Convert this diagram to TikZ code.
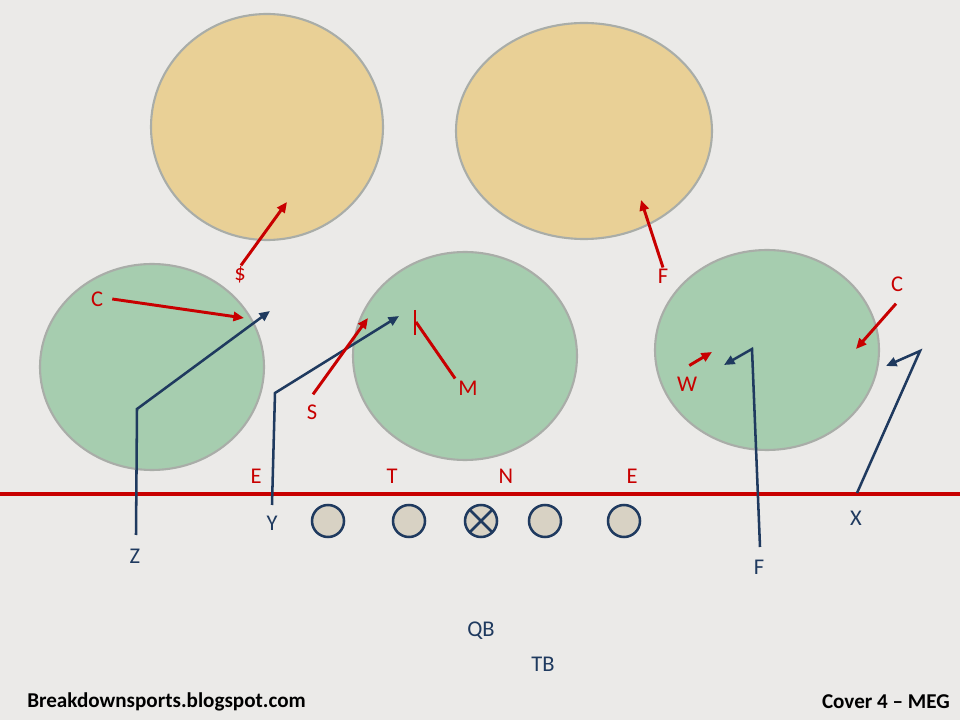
\documentclass[tikz,border=0pt]{standalone}
\usepackage{fontspec}
\setmainfont{Carlito}
\usetikzlibrary{arrows.meta, calc}

\definecolor{bgGrey}{HTML}{EBEAE8}
\definecolor{zoneGold}{HTML}{E9D096}
\definecolor{zoneGreen}{HTML}{A6CDAF}
\definecolor{zoneRim}{HTML}{A9ADA8}
\definecolor{defRed}{HTML}{C80000}
\definecolor{offBlue}{HTML}{1F3A5F}
\definecolor{linemanFill}{HTML}{D8D2C4}

\begin{document}
\begin{tikzpicture}[x=0.025cm, y=-0.025cm,
    deep/.style={fill=zoneGold, draw=zoneRim, line width=1.5pt},
    under/.style={fill=zoneGreen, draw=zoneRim, line width=1.5pt},
    defender/.style={text=defRed, font=\fontsize{16}{18}\selectfont, inner sep=0pt},
    player/.style={text=offBlue, font=\fontsize{16}{18}\selectfont, inner sep=0pt},
    lineman/.style={fill=linemanFill, draw=offBlue, line width=1.8pt},
    drop/.style={draw=defRed, line width=2.1pt, -{Triangle[length=7.5pt, width=6.5pt]}},
    route/.style={draw=offBlue, line width=1.8pt, -{Triangle[length=7.5pt, width=6.5pt]}}]
    % Background
    \fill[bgGrey] (0,0) rectangle (960,720);
    \useasboundingbox (0,0) rectangle (960,720);

    % Deep quarters
    \draw[deep] (267,127) ellipse (116 and 113);
    \draw[deep] (584,131) ellipse (128 and 108);
    % Underneath zones
    \draw[under] (152,367) ellipse (112 and 103);
    \draw[under] (465,356) ellipse (112 and 104);
    \draw[under] (767,350) ellipse (112 and 100);

    % Line of scrimmage
    \draw[defRed, line width=2.2pt] (0,494) -- (960,494);

    % Offensive line
    \foreach \x in {328,409,545,624}
    {
        \draw[lineman] (\x,521) circle (16);
    }
    \draw[lineman] (481,521) circle (16);
    \draw[offBlue, line width=1.8pt] (481,521) ++(45:16) -- ++(225:32)
        (481,521) ++(135:16) -- ++(315:32);

    % Defensive front
    \node[defender] (endL) at (256,476) {E};
    \node[defender] (tackle) at (392,476) {T};
    \node[defender] (nose) at (506,476) {N};
    \node[defender] (endR) at (632,476) {E};

    % Second level and secondary
    \node[defender] (money) at (240,275) {\$};
    \node[defender] (cornerL) at (97,299) {C};
    \node[defender] (sam) at (312,412) {S};
    \node[defender] (mike) at (468,388) {M};
    \node[defender] (free) at (663,276) {F};
    \node[defender] (will) at (687,384) {W};
    \node[defender] (cornerR) at (897,284) {C};

    % Offense
    \node[player] (zRec) at (135,556) {Z};
    \node[player] (yRec) at (272,523) {Y};
    \node[player] (fRec) at (759,567) {F};
    \node[player] (xRec) at (856,518) {X};
    \node[player] (qb) at (481,631) {QB};
    \node[player] (tb) at (543,664) {TB};

    % Route points
    \coordinate (zStart) at (136,535);
    \coordinate (zBreak) at (137,409);
    \coordinate (zEnd) at (270,311);
    \coordinate (yStart) at (272,505);
    \coordinate (yBreak) at (275,393);
    \coordinate (yEnd) at (399,316);
    \coordinate (fStart) at (760,547);
    \coordinate (fBreak) at (752,349);
    \coordinate (fEnd) at (724,365);
    \coordinate (xStart) at (857,493);
    \coordinate (xBreak) at (920,351);
    \coordinate (xEnd) at (886,366);

    % Routes
    \draw[route] (zStart) -- (zBreak) -- (zEnd);
    \draw[route] (yStart) -- (yBreak) -- (yEnd);
    \draw[route] (fStart) -- (fBreak) -- (fEnd);
    \draw[route] (xStart) -- (xBreak) -- (xEnd);

    % Drops
    \coordinate (moneyEnd) at (287,202);
    \coordinate (cornerLEnd) at (244,318);
    \coordinate (samEnd) at (368,318);
    \coordinate (mikeEnd) at (416,322);
    \coordinate (freeEnd) at (641,200);
    \coordinate (willEnd) at (712,352);
    \coordinate (cornerREnd) at (856,349);

    \draw[drop] ($(money.north)+(1,-1)$) -- (moneyEnd);
    \draw[drop] ($(cornerL.east)+(9,0)$) -- (cornerLEnd);
    \draw[drop] ($(sam.north)+(1,-10)$) -- (samEnd);
    \draw[drop, -] ($(mike.north west)+(-3,-2)$) -- (mikeEnd);
    \draw[defRed, line width=2.1pt] (415,310) -- (415,335);
    \draw[drop] ($(free.north)+(0,-1)$) -- (freeEnd);
    \draw[drop] ($(will.north east)+(-8,-11)$) -- (willEnd);
    \draw[drop] ($(cornerR.south)+(-1,12)$) -- (cornerREnd);

    % Footer
    \node[anchor=west, font=\bfseries\fontsize{15}{17}\selectfont, inner sep=0pt] (site) at (27,702) {Breakdownsports.blogspot.com};
    \node[anchor=east, font=\bfseries\fontsize{15}{17}\selectfont, inner sep=0pt] (title) at (950,702) {Cover 4 – MEG};
\end{tikzpicture}
\end{document}
